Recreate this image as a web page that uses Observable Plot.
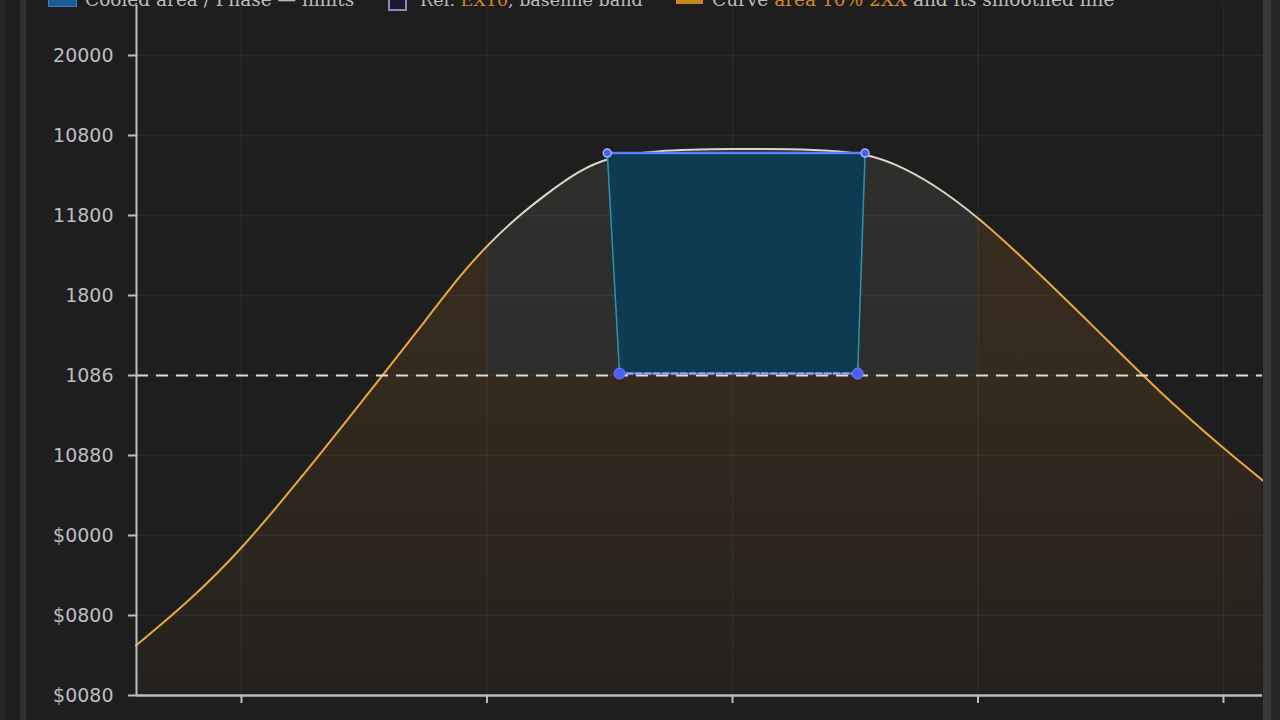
<!DOCTYPE html>
<html>
<head>
<meta charset="utf-8">
<script src="https://cdn.jsdelivr.net/npm/d3@7"></script>
<script src="https://cdn.jsdelivr.net/npm/@observablehq/plot@0.6"></script>
<style>
  body { margin: 0; background: #1e1e1e; overflow: hidden; }
  #wrap { position: relative; width: 1280px; height: 720px; overflow: hidden; }
  .lg { position: absolute; font-family: "DejaVu Serif", "Liberation Serif", serif; line-height: 20px; color: #bdbdbd; white-space: nowrap; top: -10px; }
  .or { color: #d08a2a; }
  .sw { position: absolute; }
</style>
</head>
<body>
<div id="wrap">
  <div class="sw" style="left:0;top:0;width:6px;height:720px;background:#262626"></div>
  <div class="sw" style="left:20px;top:0;width:6px;height:720px;background:#303030"></div>
  <div class="sw" style="left:1263px;top:0;width:8px;height:720px;background:#383838"></div>
  <div class="sw" style="left:1271px;top:0;width:9px;height:720px;background:#262626"></div>
  <div class="sw" style="left:48px;top:-5px;width:27px;height:10px;background:#1d5a96;border:1px solid #3b7cc2"></div>
  <div class="lg" style="left:85px;font-size:18.5px">Cooled area / Phase — limits</div>
  <div class="sw" style="left:388px;top:-8px;width:15px;height:15px;background:#1a1a2e;border:2px solid #8a8ab4"></div>
  <div class="lg" style="left:420px;font-size:17.5px">Ref. <span class="or">EX10</span>, baseline band</div>
  <div class="sw" style="left:676px;top:-4px;width:27px;height:8px;background:#c8861e"></div>
  <div class="lg" style="left:712px;font-size:18.5px">Curve <span class="or">area 10% 2XX</span> and its smoothed line</div>
</div>
<script>
// ---- data ----
const xTicks = [1, 2, 3, 4, 5];
const yTicks = [0, 2500, 5000, 7500, 10000, 12500, 15000, 17500, 20000];
const yTickLabels = ["$0080", "$0800", "$0000", "10880", "1086", "1800", "11800", "10800", "20000"];
const curveX = [0.57, 0.79, 1.0, 1.24, 1.41, 1.58, 1.75, 1.89, 2.0, 2.12, 2.25, 2.37, 2.49, 2.67, 3.0, 3.36, 3.54, 3.66, 3.81, 4.0, 4.25, 4.5, 4.74, 5.0, 5.16];
const curveY = [1560, 2970, 4560, 6780, 8410, 10060, 11720, 13130, 14060, 14940, 15720, 16380, 16810, 17030, 17090, 17060, 16940, 16630, 16030, 14970, 13190, 11310, 9470, 7720, 6720];
const baseline = 10000;
const bandStart = 2, bandEnd = 4;
const boxX = [2.49, 3.54, 3.51, 2.54];
const boxY = [16950, 16950, 10060, 10060];

// ---- tables ----
const curve = curveX.map((x, i) => ({x, y: curveY[i]}));
const box = boxX.map((x, i) => ({x, y: boxY[i]}));
const boxClosed = [...box, box[0]];
const labelMap = new Map(yTicks.map((t, i) => [t, yTickLabels[i]]));

const ORANGE = "#e9a83a", LIGHT = "#dcd6c8", BAND = "#2e2f2c";
const CURVE = "basis";

function gradients(index, scales, values, dims) {
  const defs = d3.create("svg:defs");
  const W = dims.width;
  const a = scales.x(bandStart) / W, b = scales.x(bandEnd) / W;
  const h = (id, stops) => {
    const g = defs.append("linearGradient").attr("id", id)
      .attr("gradientUnits", "userSpaceOnUse")
      .attr("x1", 0).attr("x2", W).attr("y1", 0).attr("y2", 0);
    for (const [o, c, op] of stops) g.append("stop").attr("offset", o).attr("stop-color", c).attr("stop-opacity", op);
  };
  h("lineGrad", [[0, ORANGE, 1], [a - 0.01, ORANGE, 1], [a + 0.01, LIGHT, 1], [b - 0.01, LIGHT, 1], [b + 0.01, ORANGE, 1], [1, ORANGE, 1]]);
  h("bandGrad", [[0, BAND, 0], [a, BAND, 0], [a, BAND, 1], [b, BAND, 1], [b, BAND, 0], [1, BAND, 0]]);
  const v = defs.append("linearGradient").attr("id", "areaGrad")
    .attr("gradientUnits", "userSpaceOnUse")
    .attr("x1", 0).attr("x2", 0).attr("y1", scales.y(17000)).attr("y2", scales.y(0));
  [[0, "#3a2e1f"], [0.45, "#33291d"], [0.75, "#2b251d"], [1, "#23211f"]]
    .forEach(([o, c]) => v.append("stop").attr("offset", o).attr("stop-color", c));
  return defs.node();
}

const chart = Plot.plot({
  width: 1280,
  height: 720,
  marginLeft: 136,
  marginRight: 18,
  marginTop: 5,
  marginBottom: 25,
  x: {domain: [0.5723, 5.159]},
  y: {domain: [0, 21562]},
  style: {background: "transparent", color: "#bdbdbd", fontFamily: "DejaVu Sans, sans-serif", fontSize: "19px", overflow: "visible"},
  marks: [
    gradients,
    Plot.areaY(curve, {x: "x", y: "y", fill: "url(#areaGrad)", curve: CURVE}),
    Plot.areaY(curve, {x: "x", y1: baseline, y2: "y", fill: "url(#bandGrad)", curve: CURVE}),
    Plot.gridY(yTicks, {stroke: "#ffffff", strokeOpacity: 0.05, strokeWidth: 1.5}),
    Plot.gridX(xTicks, {stroke: "#ffffff", strokeOpacity: 0.05, strokeWidth: 1.5}),
    Plot.line(curve, {x: "x", y: "y", stroke: "url(#lineGrad)", strokeWidth: 2, curve: CURVE}),
    Plot.ruleY([baseline], {stroke: "#dcdcdc", strokeWidth: 2, strokeDasharray: "12,8"}),
    Plot.line(boxClosed, {x: "x", y: "y", fill: "#0e3a52", stroke: "none"}),
    Plot.line([box[1], box[2]], {x: "x", y: "y", stroke: "#2b93aa", strokeWidth: 1.5}),
    Plot.line([box[3], box[0]], {x: "x", y: "y", stroke: "#2b93aa", strokeWidth: 1.5}),
    Plot.line([box[2], box[3]], {x: "x", y: "y", stroke: "#8aa2ff", strokeWidth: 2.5, strokeDasharray: "6,3"}),
    Plot.line([box[0], box[1]], {x: "x", y: "y", stroke: "#5b7dff", strokeWidth: 2.5}),
    Plot.dot([box[0], box[1]], {x: "x", y: "y", r: 4, fill: "#4a5ef0", stroke: "#a8b4ff", strokeWidth: 1.5}),
    Plot.dot([box[2], box[3]], {x: "x", y: "y", r: 5.5, fill: "#4c5ff5", stroke: "#6f80ff", strokeWidth: 1}),
    Plot.ruleX([0.5723], {y1: 0, y2: 21562, stroke: "#bdbdbd", strokeWidth: 2}),
    Plot.ruleY([0], {stroke: "#bdbdbd", strokeWidth: 2.5}),
    Plot.axisY({ticks: yTicks, tickFormat: d => labelMap.get(d), tickSize: 8, tickPadding: 15, strokeWidth: 2, label: null}),
    Plot.axisX({ticks: xTicks, tickFormat: () => "", tickSize: 8, strokeWidth: 2, label: null})
  ]
});
chart.style.position = "absolute";
chart.style.left = "0";
chart.style.top = "0";
document.getElementById("wrap").prepend(chart);
</script>
</body>
</html>
